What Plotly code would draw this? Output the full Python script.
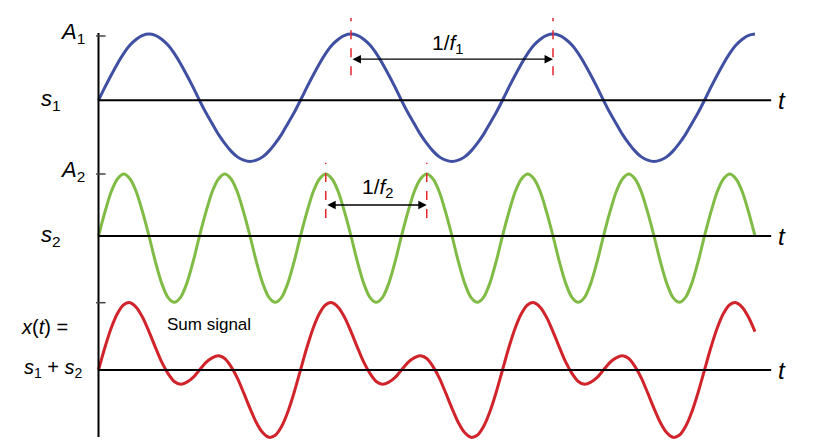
import plotly.graph_objects as go

# sample grid, in periods of s1 (1/f1 = 1, 1/f2 = 0.5), 32 samples per period
t = [i / 32 for i in range(105)]

# s1 (units of A1)
s1 = [0.0, 0.20, 0.39, 0.57, 0.73, 0.86, 0.95, 1.01, 1.03, 1.01, 0.95, 0.86, 0.73, 0.57, 0.39, 0.20,
      0.0, -0.19, -0.36, -0.53, -0.67, -0.79, -0.88, -0.93, -0.95, -0.93, -0.88, -0.79, -0.67, -0.53, -0.36, -0.19,
      0.0, 0.20, 0.39, 0.57, 0.73, 0.86, 0.95, 1.01, 1.03, 1.01, 0.95, 0.86, 0.73, 0.57, 0.39, 0.20,
      0.0, -0.19, -0.36, -0.53, -0.67, -0.79, -0.88, -0.93, -0.95, -0.93, -0.88, -0.79, -0.67, -0.53, -0.36, -0.19,
      0.0, 0.20, 0.39, 0.57, 0.73, 0.86, 0.95, 1.01, 1.03, 1.01, 0.95, 0.86, 0.73, 0.57, 0.39, 0.20,
      0.0, -0.19, -0.36, -0.53, -0.67, -0.79, -0.88, -0.93, -0.95, -0.93, -0.88, -0.79, -0.67, -0.53, -0.36, -0.19,
      0.0, 0.20, 0.39, 0.57, 0.73, 0.86, 0.95, 1.01, 1.03]

# s2 (units of A2)
s2 = [0.0, 0.38, 0.71, 0.92, 1.0, 0.92, 0.71, 0.38, 0.0, -0.41, -0.76, -0.99, -1.07, -0.99, -0.76, -0.41,
      0.0, 0.38, 0.71, 0.92, 1.0, 0.92, 0.71, 0.38, 0.0, -0.41, -0.76, -0.99, -1.07, -0.99, -0.76, -0.41,
      0.0, 0.38, 0.71, 0.92, 1.0, 0.92, 0.71, 0.38, 0.0, -0.41, -0.76, -0.99, -1.07, -0.99, -0.76, -0.41,
      0.0, 0.38, 0.71, 0.92, 1.0, 0.92, 0.71, 0.38, 0.0, -0.41, -0.76, -0.99, -1.07, -0.99, -0.76, -0.41,
      0.0, 0.38, 0.71, 0.92, 1.0, 0.92, 0.71, 0.38, 0.0, -0.41, -0.76, -0.99, -1.07, -0.99, -0.76, -0.41,
      0.0, 0.38, 0.71, 0.92, 1.0, 0.92, 0.71, 0.38, 0.0, -0.41, -0.76, -0.99, -1.07, -0.99, -0.76, -0.41,
      0.0, 0.38, 0.71, 0.92, 1.0, 0.92, 0.71, 0.38, 0.0]

# x(t) = s1 + s2
xt = [0.0, 0.33, 0.62, 0.84, 0.97, 1.0, 0.93, 0.78, 0.57, 0.34, 0.12, -0.05, -0.17, -0.21, -0.18, -0.11,
      0.0, 0.11, 0.18, 0.21, 0.17, 0.05, -0.12, -0.34, -0.57, -0.78, -0.93, -1.0, -0.97, -0.84, -0.62, -0.33,
      0.0, 0.33, 0.62, 0.84, 0.97, 1.0, 0.93, 0.78, 0.57, 0.34, 0.12, -0.05, -0.17, -0.21, -0.18, -0.11,
      0.0, 0.11, 0.18, 0.21, 0.17, 0.05, -0.12, -0.34, -0.57, -0.78, -0.93, -1.0, -0.97, -0.84, -0.62, -0.33,
      0.0, 0.33, 0.62, 0.84, 0.97, 1.0, 0.93, 0.78, 0.57, 0.34, 0.12, -0.05, -0.17, -0.21, -0.18, -0.11,
      0.0, 0.11, 0.18, 0.21, 0.17, 0.05, -0.12, -0.34, -0.57, -0.78, -0.93, -1.0, -0.97, -0.84, -0.62, -0.33,
      0.0, 0.33, 0.62, 0.84, 0.97, 1.0, 0.93, 0.78, 0.57]

BLUE = "#3f4fa2"
GREEN = "#80bc45"
RED = "#d0232a"
DASH = "#e5262e"
FONT = "Liberation Sans Narrow, Liberation Sans, Arial"

W, H = 824, 446
OFF = 8          # page margin of the html body
X0 = 98.5 - OFF  # pixel of t = 0
PX_T = 202       # pixels per period of s1


def yrange(base_px, px_per_unit):
    # y range so that value 0 lands on pixel row base_px
    hi = (base_px - OFF) / px_per_unit
    return [hi - H / px_per_unit, hi]


def paper_y(px):
    return 1 - (px - OFF) / H


fig = go.Figure()
line_kw = dict(shape="spline", smoothing=0.8)
fig.add_trace(go.Scatter(x=t, y=s1, mode="lines", yaxis="y",
                         line=dict(color=BLUE, width=3, **line_kw)))
fig.add_trace(go.Scatter(x=t, y=s2, mode="lines", yaxis="y2",
                         line=dict(color=GREEN, width=3, **line_kw)))
fig.add_trace(go.Scatter(x=t, y=xt, mode="lines", yaxis="y3",
                         line=dict(color=RED, width=3, **line_kw)))

shapes = []
# vertical axis
shapes.append(dict(type="line", xref="x", yref="paper", x0=0, x1=0,
                   y0=paper_y(437), y1=paper_y(33), line=dict(color="black", width=2)))
for yr in ["y", "y2", "y3"]:
    # time axis of each signal
    shapes.append(dict(type="line", xref="x", yref=yr, x0=0, x1=3.33, y0=0, y1=0,
                       line=dict(color="black", width=2)))
    # amplitude tick
    shapes.append(dict(type="line", xref="x", yref=yr, x0=-0.012, x1=0.035, y0=1, y1=1,
                       line=dict(color="#444444", width=1.5)))
# period markers
for xp in [1.25, 2.25]:
    shapes.append(dict(type="line", xref="x", yref="y", x0=xp, x1=xp, y0=0.39, y1=1.28,
                       line=dict(color=DASH, width=1.5, dash="dash")))
for xp in [1.125, 1.625]:
    shapes.append(dict(type="line", xref="x", yref="y2", x0=xp, x1=xp, y0=0.29, y1=1.18,
                       line=dict(color=DASH, width=1.5, dash="dash")))

ann = []
arrow_kw = dict(showarrow=True, arrowhead=2, startarrowhead=2, arrowside="end+start",
                arrowwidth=1.3, arrowsize=1.3, startarrowsize=1.3, arrowcolor="black",
                axref="x", text="")
ann.append(dict(x=2.25, y=0.64, ax=1.25, ay=0.64, xref="x", yref="y", ayref="y", **arrow_kw))
ann.append(dict(x=1.625, y=0.5, ax=1.125, ay=0.5, xref="x", yref="y2", ayref="y2", **arrow_kw))


def label(x, y, yref, text, size=19, xanchor="center"):
    ann.append(dict(x=x, y=y, xref="x", yref=yref, text=text, showarrow=False,
                    xanchor=xanchor, yanchor="middle",
                    font=dict(family=FONT, size=size, color="black")))


label(1.73, 0.88, "y", "1/<i>f</i><sub>1</sub>", size=21)
label(1.385, 0.78, "y2", "1/<i>f</i><sub>2</sub>", size=21)
for yr in ["y", "y2", "y3"]:
    label(3.352, 0.0, yr, "<i>t</i>", size=24, xanchor="left")
label(-0.056, 1.05, "y", "<i>A</i><sub>1</sub>", size=22, xanchor="right")
label(-0.175, 0.0, "y", "<i>s</i><sub>1</sub>", size=22, xanchor="right")
label(-0.056, 1.05, "y2", "<i>A</i><sub>2</sub>", size=22, xanchor="right")
label(-0.175, 0.0, "y2", "<i>s</i><sub>2</sub>", size=22, xanchor="right")
label(-0.14, 0.64, "y3", "<i>x</i>(<i>t</i>) =", size=20, xanchor="right")
label(-0.066, 0.02, "y3", "<i>s</i><sub>1</sub> + <i>s</i><sub>2</sub>", size=20, xanchor="right")
label(0.33, 0.68, "y3", "Sum signal", size=17, xanchor="left")

fig.update_layout(
    width=W, height=H,
    margin=dict(l=0, r=0, t=0, b=0),
    paper_bgcolor="white", plot_bgcolor="white",
    showlegend=False,
    xaxis=dict(range=[-X0 / PX_T, (W - X0) / PX_T], visible=False),
    yaxis=dict(range=yrange(100.3, 64.3), visible=False),
    yaxis2=dict(range=yrange(236, 62), visible=False, overlaying="y"),
    yaxis3=dict(range=yrange(370, 67.3), visible=False, overlaying="y"),
    shapes=shapes,
    annotations=ann,
)

fig.write_html("out.html")
